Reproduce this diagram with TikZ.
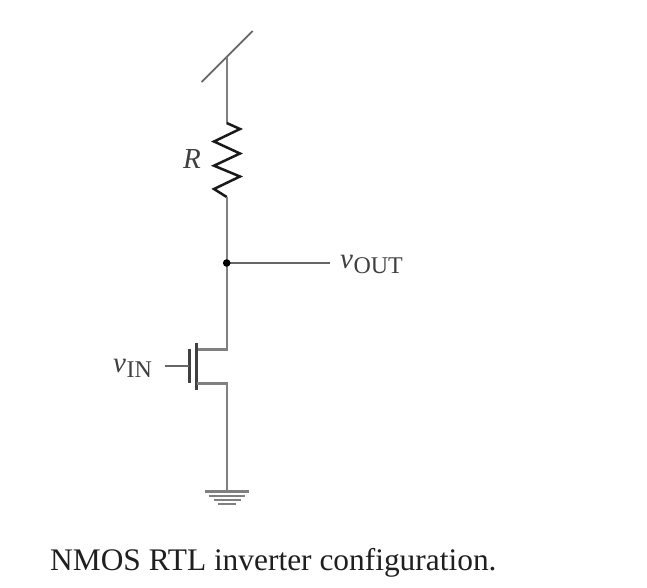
\documentclass[tikz,border=0pt]{standalone}
\usepackage{fontspec}
\setmainfont{Liberation Serif}
\begin{document}
\begin{tikzpicture}[x=1pt,y=-1pt,
  wire/.style={draw=black!50,line width=2.2pt},
  thin wire/.style={draw=black!60,line width=1.7pt},
  plate/.style={draw=black!75,line width=2.5pt},
  zig/.style={draw=black!90,line width=2.5pt,line join=miter},
  lab/.style={inner sep=0pt,text=black!75,font=\fontsize{23}{26}\selectfont,anchor=base west}]
\useasboundingbox[fill=white] (0,0) rectangle (647,588);
% named points
\coordinate (railA) at (201.7,82);
\coordinate (railB) at (252.7,31);
\coordinate (top) at (226.7,57);
\coordinate (rtop) at (226.7,123);
\coordinate (rbot) at (226.7,197);
\coordinate (junction) at (226.7,263);
\coordinate (outend) at (330,263);
\coordinate (drain) at (226.7,349.5);
\coordinate (draing) at (196.7,349.5);
\coordinate (source) at (226.7,383.5);
\coordinate (sourceg) at (196.7,383.5);
\coordinate (chanT) at (196.7,342.5);
\coordinate (chanB) at (196.7,390);
\coordinate (gateT) at (189.3,349);
\coordinate (gateB) at (189.3,383);
\coordinate (gatemid) at (189.3,366);
\coordinate (gatein) at (165,366);
\coordinate (gnd) at (226.7,491.5);
% connectors
\draw[thin wire] (railA) -- (railB);
\draw[wire] (top) -- (rtop);
\draw[zig] (rtop) -- (240,129) -- (214,141.5) -- (240,153.5) -- (214,165.7) -- (240,176.5) -- (214,189) -- (rbot);
\draw[wire] (rbot) -- (junction);
\draw[wire] (junction) -- (drain) -- (draing);
\draw[thin wire] (junction) -- (outend);
\fill[black] (junction) circle (3.8);
\draw[plate] (chanT) -- (chanB);
\draw[plate] (gateT) -- (gateB);
\draw[thin wire] (gatein) -- (gatemid);
\draw[wire] (sourceg) -- (source) -- (gnd);
% ground
\draw[wire] (205,491.5) -- (249,491.5);
\draw[wire] (209,495.7) -- (245,495.7);
\draw[wire] (214,500) -- (241,500);
\draw[wire] (218,504) -- (236,504);
% labels
\node[lab,font=\fontsize{29}{30}\selectfont\itshape] (rlabel) at (183,168) {R};
\node[lab] (vout) at (340,268.5) {\fontsize{29}{30}\selectfont\itshape v\kern0.5pt\raisebox{-5pt}{\fontsize{24}{26}\selectfont\upshape OUT}};
\node[lab] (vin) at (113,372) {\fontsize{29}{30}\selectfont\itshape v\kern0.5pt\raisebox{-5pt}{\fontsize{24}{26}\selectfont\upshape IN}};
\node[lab,text=black!88,font=\fontsize{31.4}{34}\selectfont] (caption) at (50,570) {NMOS RTL inverter configuration.};
\end{tikzpicture}
\end{document}
